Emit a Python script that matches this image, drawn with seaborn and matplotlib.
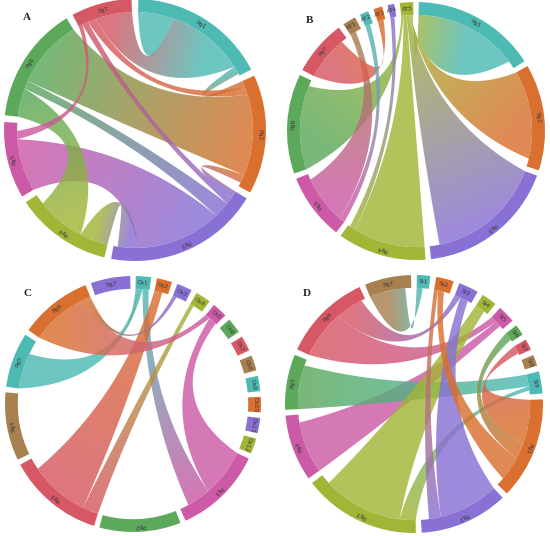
import matplotlib
matplotlib.use("Agg")
import matplotlib.pyplot as plt
import numpy as np
import seaborn as sns
from matplotlib.patches import Wedge, Polygon

sns.set_style("white")
plt.rcParams['font.family'] = ['DejaVu Sans']

palette = sns.color_palette(["#4EBAB4", "#D9702F", "#8970D4", "#A3B537",
                             "#CC5AA6", "#5CA95C", "#D65864", "#A88050"])

# panel A
a_names = ["Pg1", "Pg2", "Pg3", "Pg4", "Pg5", "Pg6", "Pg7"]
a_sizes = [61, 53, 69, 43, 34, 52, 27]
a_links = [("Pg1", "Pg1", 8, 10), ("Pg1", "Pg7", 38, 18), ("Pg1", "Pg2", 4, 3),
           ("Pg2", "Pg6", 40, 34), ("Pg7", "Pg2", 4, 4), ("Pg7", "Pg3", 3, 3),
           ("Pg2", "Pg3", 4, 4), ("Pg3", "Pg5", 42, 26), ("Pg3", "Pg4", 10, 14),
           ("Pg3", "Pg6", 8, 4), ("Pg4", "Pg6", 24, 14), ("Pg5", "Pg7", 4, 2)]

# panel B
b_names = ["Pg1", "Pg2", "Pg3", "Pg4", "Pg5", "Pg6", "Pg7",
           "AT1", "AT2", "AT3", "AT4", "AT5"]
b_sizes = [56, 48, 63, 40, 30, 45, 25, 6, 4, 4, 3, 6]
b_links = [("Pg1", "AT5", 52, 1.0), ("Pg2", "AT5", 44, 0.8), ("Pg3", "AT5", 58, 1.2),
           ("Pg4", "AT5", 36, 1.6), ("Pg6", "AT5", 42, 1.0), ("Pg5", "AT1", 24, 3),
           ("Pg7", "AT3", 22, 3), ("Pg5", "AT2", 3, 2.5), ("Pg4", "AT4", 3, 2)]

# panel C
c_names = ["Os1", "Os2", "Os3", "Os4", "Os5", "Os6", "Os7", "Os8", "Os9",
           "Os10", "Os11", "Os12", "Pg1", "Pg2", "Pg3", "Pg4", "Pg5", "Pg6", "Pg7"]
c_sizes = [7] * 12 + [40.5, 37, 44, 31, 25, 33, 18]
c_links = [("Pg1", "Os5", 24, 4), ("Pg1", "Os1", 12, 3), ("Pg3", "Os2", 30, 4),
           ("Pg3", "Os4", 8, 2), ("Pg5", "Os1", 18, 2), ("Pg6", "Os5", 28, 2.5),
           ("Pg6", "Os3", 3, 2), ("Pg6", "Os1", 2, 1.5)]

# panel D
d_names = ["Si1", "Si2", "Si3", "Si4", "Si5", "Si6", "Si7", "Si8", "Si9",
           "Pg1", "Pg2", "Pg3", "Pg4", "Pg5", "Pg6", "Pg7"]
d_sizes = [6, 8, 9, 7, 8, 5, 5, 5, 10, 46, 40, 53, 30, 25, 40, 21]
d_links = [("Pg7", "Si1", 18, 3), ("Pg6", "Si3", 14, 3), ("Pg6", "Si5", 24, 3),
           ("Pg4", "Si5", 26, 3), ("Pg5", "Si9", 22, 6), ("Pg3", "Si4", 40, 5),
           ("Pg3", "Si9", 8, 2), ("Pg2", "Si3", 30, 4), ("Pg2", "Si2", 6, 2),
           ("Pg1", "Si7", 22, 4), ("Pg1", "Si6", 8, 4), ("Pg1", "Si2", 12, 3)]

R_IN = 0.9
K_CTRL = 0.3
ALPHA = 0.82
W, H = 550, 536
g = np.linspace(-1, 1, 300)
GX, GY = np.meshgrid(g, g)


def xy(theta, r):
    t = np.radians(theta)
    return np.column_stack([r * np.sin(t), r * np.cos(t)])


def bez(p0, p1, n=50):
    c = K_CTRL * (p0 + p1) / 2
    u = np.linspace(0, 1, n)[:, None]
    return (1 - u) ** 2 * p0 + 2 * u * (1 - u) * c + u ** 2 * p1


def chord(fig, cx, cy, rad, names, sizes, links, letter):
    ax = fig.add_axes([(cx - rad) / W, (H - cy - rad) / H, 2 * rad / W, 2 * rad / H])
    ax.set_axis_off()
    gap = (360 - sum(sizes)) / len(names)
    starts = {}
    pos = gap / 2
    for name, s in zip(names, sizes):
        starts[name] = pos
        pos += s + gap
    cols = {name: np.array(palette[i % 8]) for i, name in enumerate(names)}

    # place link ends inside each sector, self links first
    ends = {}
    for name in names:
        mine = []
        for k, (s, t, vs, vt) in enumerate(links):
            if s == name:
                mine.append((k, 0, t, vs))
            if t == name:
                mine.append((k, 1, s, vt))
        mine.sort(key=lambda m: -((starts[m[2]] - starts[name]) % 360 or 360))
        p = starts[name]
        for k, side, other, v in mine:
            ends[(k, side)] = (p, p + v)
            p += v

    for k, (s, t, vs, vt) in enumerate(links):
        a1, a2 = ends[(k, 0)]
        b1, b2 = ends[(k, 1)]
        arc_a = xy(np.linspace(a1, a2, 30), R_IN)
        arc_b = xy(np.linspace(b1, b2, 30), R_IN)
        pts = np.vstack([arc_a, bez(arc_a[-1], arc_b[0]), arc_b, bez(arc_b[-1], arc_a[0])])
        patch = Polygon(pts, closed=True, facecolor='none', edgecolor='none')
        ax.add_patch(patch)
        pa = xy((a1 + a2) / 2, R_IN)[0]
        pb = xy((b1 + b2) / 2, R_IN)[0]
        d = pb - pa
        if d @ d < 1e-6:
            d = np.array([1e-3, 0.0])
        tt = ((GX - pa[0]) * d[0] + (GY - pa[1]) * d[1]) / (d @ d)
        tt = np.clip(tt, 0, 1)[..., None]
        img = np.concatenate([(1 - tt) * cols[s] + tt * cols[t],
                              np.full(tt.shape, ALPHA)], axis=2)
        im = ax.imshow(img, extent=(-1, 1, -1, 1), origin='lower', aspect='auto',
                       interpolation='bilinear', zorder=1)
        im.set_clip_path(patch)

    for name, s in zip(names, sizes):
        st = starts[name]
        ax.add_patch(Wedge((0, 0), 1.0, 90 - (st + s), 90 - st, width=1.0 - R_IN,
                           facecolor=cols[name], edgecolor='none', zorder=3))
        m = st + s / 2
        lx, ly = xy(m, (1.0 + R_IN) / 2)[0]
        ax.text(lx, ly, name, rotation=-m, rotation_mode='anchor', ha='center',
                va='center', fontsize=4.3, color='#3a3a3a', zorder=4)

    ax.set_xlim(-1, 1)
    ax.set_ylim(-1, 1)
    fig.text((cx - rad + 0.086 * 2 * rad) / W, 1 - (cy - rad + 0.07 * 2 * rad) / H, letter,
             fontsize=8, fontweight='bold', family='Liberation Serif',
             ha='center', va='center')
    return ax


fig = plt.figure(figsize=(5.5, 5.36), dpi=100)
chord(fig, 135, 130, 131, a_names, a_sizes, a_links, "A")
chord(fig, 416, 131, 129, b_names, b_sizes, b_links, "B")
chord(fig, 133, 404, 128, c_names, c_sizes, c_links, "C")
chord(fig, 414, 404, 129, d_names, d_sizes, d_links, "D")
fig.savefig("out.png", dpi=100)
